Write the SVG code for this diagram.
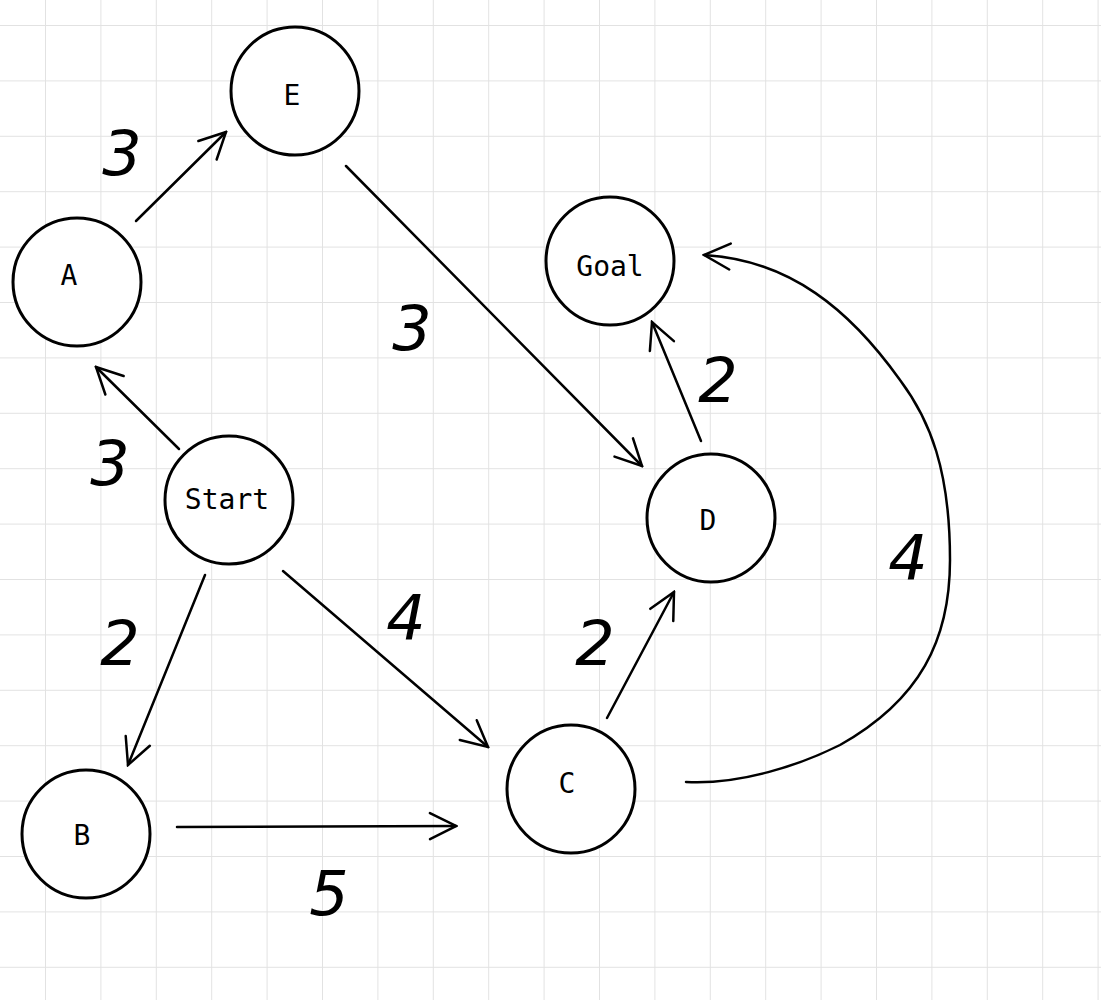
<svg xmlns="http://www.w3.org/2000/svg" width="1101" height="1000" viewBox="0 0 1101 1000">
<defs>
<pattern id="grid" x="45" y="25" width="55.4" height="55.4" patternUnits="userSpaceOnUse">
<path d="M0 0H55.4M0 0V55.4" fill="none" stroke="#e2e2e2" stroke-width="2"/>
</pattern>
<marker id="ah" viewBox="0 0 30 30" refX="28" refY="15" markerWidth="30" markerHeight="30" markerUnits="userSpaceOnUse" orient="auto">
<path d="M2 2L28 15L2 28" fill="none" stroke="#000" stroke-width="2.5" stroke-linecap="round"/>
</marker>
<style>
.n{fill:#fff;stroke:#000;stroke-width:3}
.t{font-family:"DejaVu Sans Mono",monospace;font-size:28px;text-anchor:middle;dominant-baseline:central}
.e{fill:none;stroke:#000;stroke-width:2.5;stroke-linecap:round;marker-end:url(#ah)}
.w{font-family:"DejaVu Sans",sans-serif;font-size:62px;font-style:italic;font-weight:300;text-anchor:middle}
</style>
</defs>
<rect width="1101" height="1000" fill="#fff"/>
<rect width="1101" height="1000" fill="url(#grid)"/>
<g id="connectors">
<path class="e" d="M136 221L226 132"/>
<path class="e" d="M346 166L642 466"/>
<path class="e" d="M179 449L96 367"/>
<path class="e" d="M205 575L128 765"/>
<path class="e" d="M283 571L488 747"/>
<path class="e" d="M177 827L456 826"/>
<path class="e" d="M607 718L674 592"/>
<path class="e" d="M701 441L652 322"/>
<path class="e" d="M686 782C740 785 800 765 840 745C920 700 950 640 950 560C950 470 930 420 900 380C850 310 790 260 704 255"/>
</g>
<g id="labels">
<text class="w" x="122" y="175">3</text>
<text class="w" x="412" y="350">3</text>
<text class="w" x="110" y="485">3</text>
<text class="w" x="120" y="665">2</text>
<text class="w" x="406" y="640">4</text>
<text class="w" x="329" y="915">5</text>
<text class="w" x="595" y="665">2</text>
<text class="w" x="718" y="402">2</text>
<text class="w" x="908" y="580">4</text>
</g>
<g id="E"><circle class="n" cx="295" cy="91" r="64"/><text class="t" x="292" y="95">E</text></g>
<g id="A"><circle class="n" cx="77" cy="282" r="64"/><text class="t" x="69" y="275">A</text></g>
<g id="Goal"><circle class="n" cx="610" cy="261" r="64"/><text class="t" x="610" y="266">Goal</text></g>
<g id="Start"><circle class="n" cx="229" cy="500" r="64"/><text class="t" x="227" y="499">Start</text></g>
<g id="D"><circle class="n" cx="711" cy="518" r="64"/><text class="t" x="708" y="520">D</text></g>
<g id="B"><circle class="n" cx="86" cy="834" r="64"/><text class="t" x="82" y="835">B</text></g>
<g id="C"><circle class="n" cx="571" cy="789" r="64"/><text class="t" x="567" y="783">C</text></g>
</svg>
